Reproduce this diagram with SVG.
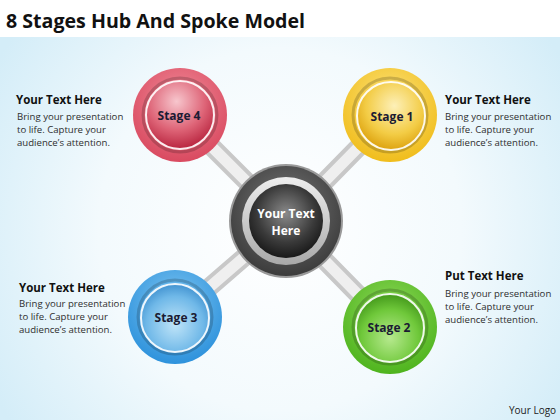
<svg xmlns="http://www.w3.org/2000/svg" width="560" height="420" viewBox="0 0 560 420">
<defs>
<radialGradient id="bg" cx="280" cy="230" r="330" gradientUnits="userSpaceOnUse">
<stop offset="0" stop-color="#ffffff"/><stop offset="0.55" stop-color="#f3fafd"/><stop offset="1" stop-color="#d4edf8"/>
</radialGradient>
<radialGradient id="redO" cx="0.5" cy="0.35" r="0.65"><stop offset="0" stop-color="#f08a98"/><stop offset="1" stop-color="#d94a60"/></radialGradient>
<radialGradient id="redI" cx="0.45" cy="0.3" r="0.7"><stop offset="0" stop-color="#f7c6cd"/><stop offset="0.6" stop-color="#de6477"/><stop offset="1" stop-color="#b92640"/></radialGradient>
<radialGradient id="yelO" cx="0.5" cy="0.35" r="0.65"><stop offset="0" stop-color="#fce27a"/><stop offset="1" stop-color="#f0bd1c"/></radialGradient>
<radialGradient id="yelI" cx="0.55" cy="0.35" r="0.7"><stop offset="0" stop-color="#fdf0b8"/><stop offset="0.6" stop-color="#f3cc45"/><stop offset="1" stop-color="#d99b05"/></radialGradient>
<radialGradient id="bluO" cx="0.5" cy="0.35" r="0.65"><stop offset="0" stop-color="#7cc4f0"/><stop offset="1" stop-color="#2e92dc"/></radialGradient>
<radialGradient id="bluI" cx="0.5" cy="0.6" r="0.7"><stop offset="0" stop-color="#bfe4f8"/><stop offset="0.6" stop-color="#6fb8e8"/><stop offset="1" stop-color="#2a7fc4"/></radialGradient>
<radialGradient id="grnO" cx="0.5" cy="0.35" r="0.65"><stop offset="0" stop-color="#8ed85a"/><stop offset="1" stop-color="#4fb41e"/></radialGradient>
<radialGradient id="grnI" cx="0.5" cy="0.65" r="0.7"><stop offset="0" stop-color="#b6e98e"/><stop offset="0.6" stop-color="#6fc83a"/><stop offset="1" stop-color="#3a8e14"/></radialGradient>
<radialGradient id="hubO" cx="0.5" cy="0.4" r="0.6"><stop offset="0" stop-color="#7a7a7a"/><stop offset="1" stop-color="#3c3c3c"/></radialGradient>
<linearGradient id="hubS" x1="0" y1="0" x2="0" y2="1"><stop offset="0" stop-color="#eeeeee"/><stop offset="1" stop-color="#a8a8a8"/></linearGradient>
<radialGradient id="hubI" cx="0.5" cy="0.4" r="0.65"><stop offset="0" stop-color="#8a8a8a"/><stop offset="0.6" stop-color="#3a3a3a"/><stop offset="1" stop-color="#111111"/></radialGradient>
</defs>
<style>
.t{font-family:"Open Sans","Liberation Sans",sans-serif;}
.h{font-size:11.5px;font-weight:bold;fill:#111;}
.b{font-size:9.6px;fill:#2e2e2e;}
.st{font-size:12px;font-weight:bold;fill:#1b1b33;text-anchor:middle;}
.hub{font-size:12px;font-weight:bold;fill:#fff;text-anchor:middle;}
.ring{fill:none;stroke:#ffffff;stroke-width:2;opacity:0.9;}
.shade{fill:none;stroke:#000;stroke-opacity:0.18;stroke-width:3;}
</style>
<rect width="560" height="420" fill="#ffffff"/>
<rect y="37" width="560" height="383" fill="url(#bg)"/>
<text class="t" x="6" y="28" font-size="20" font-weight="bold" fill="#111" textLength="299" lengthAdjust="spacingAndGlyphs">8 Stages Hub And Spoke Model</text>

<g id="connectors">
<g stroke="#c8c8c8" stroke-width="19" stroke-linecap="round">
<line x1="286" y1="221" x2="180" y2="115"/>
<line x1="286" y1="221" x2="390" y2="115"/>
<line x1="286" y1="221" x2="175" y2="317"/>
<line x1="286" y1="221" x2="390" y2="327"/>
</g>
<g stroke="#efefef" stroke-width="11" stroke-linecap="round">
<line x1="286" y1="221" x2="180" y2="115"/>
<line x1="286" y1="221" x2="390" y2="115"/>
<line x1="286" y1="221" x2="175" y2="317"/>
<line x1="286" y1="221" x2="390" y2="327"/>
</g>
</g>

<g id="hub">
<circle cx="286" cy="221" r="57" fill="#9a9a9a"/>
<circle cx="286" cy="221" r="55" fill="url(#hubO)"/>
<circle cx="286" cy="221" r="44" fill="url(#hubS)"/>
<circle cx="286" cy="221" r="37" fill="url(#hubI)"/>
<text class="t hub" x="286" y="218">Your Text</text>
<text class="t hub" x="286" y="235">Here</text>
</g>

<g id="stage4">
<circle cx="180" cy="115" r="47" fill="url(#redO)"/>
<circle cx="180" cy="115" r="37" class="shade"/>
<circle cx="180" cy="115" r="34" fill="url(#redI)"/>
<circle cx="180" cy="115" r="34" class="ring"/>
<text class="t st" x="179" y="120">Stage 4</text>
</g>

<g id="stage1">
<circle cx="390" cy="115" r="47" fill="url(#yelO)"/>
<circle cx="390" cy="115" r="37" class="shade"/>
<circle cx="391" cy="116" r="34" fill="url(#yelI)"/>
<circle cx="391" cy="116" r="34" class="ring"/>
<text class="t st" x="392" y="121">Stage 1</text>
</g>

<g id="stage3">
<circle cx="175" cy="317" r="47" fill="url(#bluO)"/>
<circle cx="175" cy="317" r="37" class="shade"/>
<circle cx="175" cy="318" r="34" fill="url(#bluI)"/>
<circle cx="175" cy="318" r="34" class="ring"/>
<text class="t st" x="176" y="322">Stage 3</text>
</g>

<g id="stage2">
<circle cx="390" cy="327" r="47" fill="url(#grnO)"/>
<circle cx="390" cy="327" r="37" class="shade"/>
<circle cx="390" cy="328" r="34" fill="url(#grnI)"/>
<circle cx="390" cy="328" r="34" class="ring"/>
<text class="t st" x="389" y="332">Stage 2</text>
</g>

<g id="text-top-left">
<text class="t h" x="16" y="104">Your Text Here</text>
<text class="t b" x="17" y="120">Bring your presentation</text>
<text class="t b" x="17" y="133">to life. Capture your</text>
<text class="t b" x="17" y="146">audience’s attention.</text>
</g>
<g id="text-top-right">
<text class="t h" x="445" y="104">Your Text Here</text>
<text class="t b" x="445" y="120">Bring your presentation</text>
<text class="t b" x="445" y="133">to life. Capture your</text>
<text class="t b" x="445" y="146">audience’s attention.</text>
</g>
<g id="text-bottom-left">
<text class="t h" x="19" y="292">Your Text Here</text>
<text class="t b" x="19" y="307">Bring your presentation</text>
<text class="t b" x="19" y="320">to life. Capture your</text>
<text class="t b" x="19" y="333">audience’s attention.</text>
</g>
<g id="text-bottom-right">
<text class="t h" x="445" y="280">Put Text Here</text>
<text class="t b" x="445" y="297">Bring your presentation</text>
<text class="t b" x="445" y="310">to life. Capture your</text>
<text class="t b" x="445" y="323">audience’s attention.</text>
</g>
<text class="t" x="509" y="414" font-size="10" fill="#222">Your Logo</text>
</svg>
